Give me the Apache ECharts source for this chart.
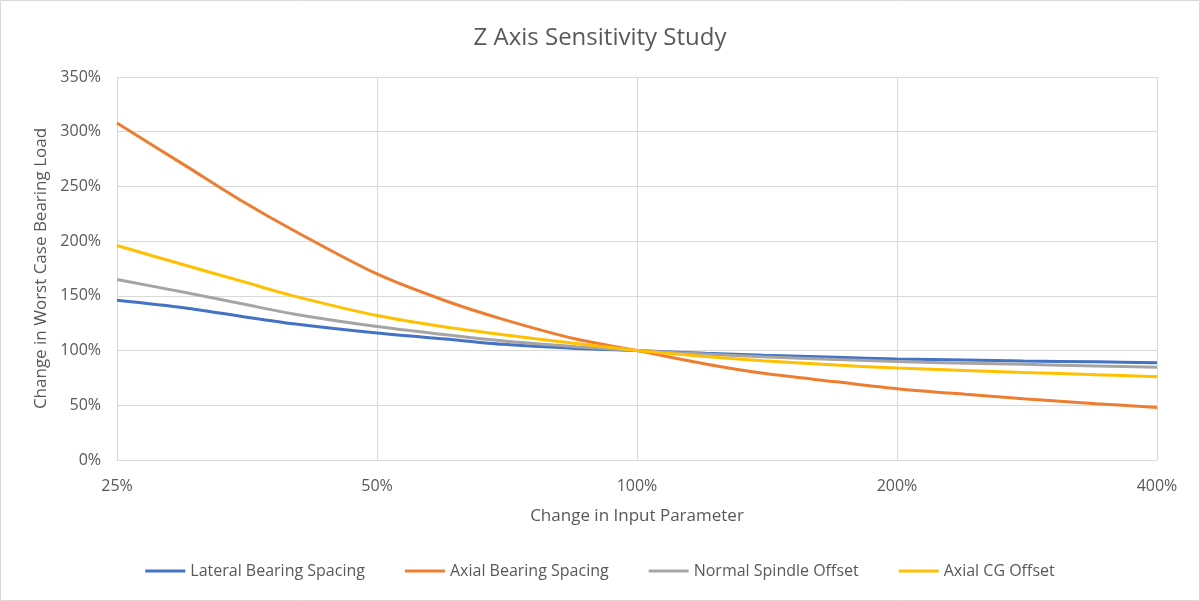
<!DOCTYPE html>
<html>
<head>
<meta charset="utf-8">
<title>Z Axis Sensitivity Study</title>
<script src="https://cdn.jsdelivr.net/npm/echarts@6/dist/echarts.min.js"></script>
<style>
  html, body { margin: 0; padding: 0; background: #fff; }
  #chart { width: 1200px; height: 601px; }
</style>
</head>
<body>
<div id="chart"></div>
<script>
// input parameter (fraction of nominal) - x axis, log2 scale
var inputParam = [0.25, 0.3, 0.35, 0.4, 0.5, 0.6, 0.7, 0.85, 1, 1.2, 1.4, 1.7, 2, 2.4, 2.8, 3.4, 4];

// change in worst case bearing load (%)
var lateralBearing = [146, 139, 131, 124.5, 116, 110.5, 105.7, 102, 100, 97.5, 95.7, 93.8, 92.3, 91.3, 90.5, 89.7, 88.9];
var axialBearing   = [308, 269, 236, 210, 170, 145.5, 128.5, 110.5, 100, 87.7, 79.2, 71.5, 65.2, 60, 56, 51.5, 48];
var normalSpindle  = [165, 153, 142.5, 133.5, 122, 114.5, 108.7, 103.5, 100, 96.8, 94.4, 91.8, 90, 88.5, 87.4, 85.9, 84.7];
var axialCG        = [196, 178, 163, 150, 132, 121.5, 114.5, 106.5, 100, 94.5, 90.8, 86.8, 84, 81.8, 80, 78, 76];

var seriesNames = ['Lateral Bearing Spacing', 'Axial Bearing Spacing', 'Normal Spindle Offset', 'Axial CG Offset'];
var seriesData = [lateralBearing, axialBearing, normalSpindle, axialCG];
var seriesColors = ['#4472C4', '#ED7D31', '#A5A5A5', '#FFC000'];

var textFont = 'Open Sans';
var textColor = '#595959';

function pairUp(ys) {
  return inputParam.map(function (x, i) { return [x, ys[i]]; });
}

var chart = echarts.init(document.getElementById('chart'));

var option = {
  animation: false,
  backgroundColor: '#fff',
  textStyle: { fontFamily: textFont },
  graphic: [{
    type: 'rect',
    shape: { x: 0.5, y: 0.5, width: 1199, height: 600 },
    style: { fill: 'none', stroke: '#d9d9d9', lineWidth: 1 },
    silent: true
  }],
  title: {
    text: 'Z Axis Sensitivity Study',
    left: 'center',
    top: 21,
    textStyle: { fontFamily: textFont, fontSize: 24, fontWeight: 'normal', color: textColor }
  },
  legend: {
    data: seriesNames,
    bottom: 17,
    left: 'center',
    icon: 'rect',
    itemWidth: 40,
    itemHeight: 3,
    itemGap: 40,
    textStyle: { fontFamily: textFont, fontSize: 16, color: textColor }
  },
  grid: { left: 117, right: 43, top: 77, bottom: 141, containLabel: false },
  xAxis: {
    type: 'log',
    logBase: 2,
    min: 0.25,
    max: 4,
    name: 'Change in Input Parameter',
    nameLocation: 'middle',
    nameGap: 48,
    nameTextStyle: { fontFamily: textFont, fontSize: 17, color: textColor },
    axisLine: { show: true, lineStyle: { color: '#d9d9d9', width: 1 } },
    axisTick: { show: false },
    axisLabel: {
      margin: 18,
      fontFamily: textFont,
      fontSize: 16,
      color: textColor,
      formatter: function (v) { return Math.round(v * 100) + '%'; }
    },
    splitLine: { show: true, lineStyle: { color: '#d9d9d9', width: 1 } },
    minorTick: { show: false },
    minorSplitLine: { show: false }
  },
  yAxis: {
    type: 'value',
    min: 0,
    max: 350,
    interval: 50,
    name: 'Change in Worst Case Bearing Load',
    nameLocation: 'middle',
    nameGap: 64,
    nameTextStyle: { fontFamily: textFont, fontSize: 17, color: textColor },
    axisLine: { show: true, lineStyle: { color: '#d9d9d9', width: 1 } },
    axisTick: { show: false },
    axisLabel: {
      margin: 16,
      fontFamily: textFont,
      fontSize: 16,
      color: textColor,
      formatter: '{value}%'
    },
    splitLine: { show: true, lineStyle: { color: '#d9d9d9', width: 1 } }
  },
  series: seriesNames.map(function (name, i) {
    return {
      name: name,
      type: 'line',
      data: pairUp(seriesData[i]),
      smooth: 0.3,
      showSymbol: false,
      symbol: 'none',
      lineStyle: { color: seriesColors[i], width: 3 },
      itemStyle: { color: seriesColors[i] },
      z: 2 + i
    };
  })
};

chart.setOption(option);
</script>
</body>
</html>
